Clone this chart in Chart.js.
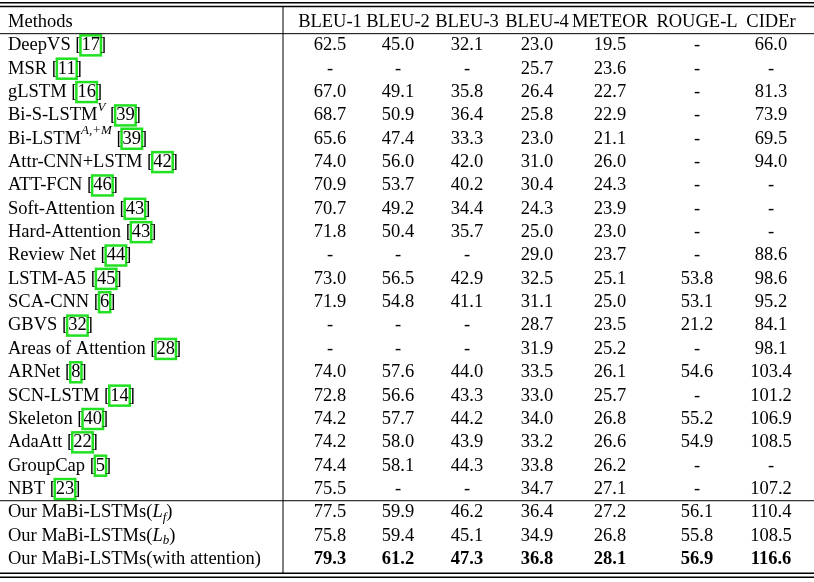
<!DOCTYPE html>
<html>
<head>
<meta charset="utf-8">
<script src="https://cdn.jsdelivr.net/npm/chart.js@4/dist/chart.umd.min.js"></script>
<style>
  html, body { margin: 0; padding: 0; background: #fff; }
  #wrap { width: 814px; height: 582px; }
</style>
</head>
<body>
<div id="wrap"><canvas id="myChart"></canvas></div>
<script>
// table content
const metrics = ["BLEU-1", "BLEU-2", "BLEU-3", "BLEU-4", "METEOR", "ROUGE-L", "CIDEr"];
const methods = ["DeepVS", "MSR", "gLSTM", "Bi-S-LSTM^{V}", "Bi-LSTM^{A,+M}", "Attr-CNN+LSTM", "ATT-FCN",
  "Soft-Attention", "Hard-Attention", "Review Net", "LSTM-A5", "SCA-CNN", "GBVS", "Areas of Attention",
  "ARNet", "SCN-LSTM", "Skeleton", "AdaAtt", "GroupCap", "NBT",
  "Our MaBi-LSTMs(*L*_{f})", "Our MaBi-LSTMs(*L*_{b})", "Our MaBi-LSTMs(with attention)"];
const refs = [17, 11, 16, 39, 39, 42, 46, 43, 43, 44, 45, 6, 32, 28, 8, 14, 40, 22, 5, 23, null, null, null];
const bleu1 = [62.5, null, 67.0, 68.7, 65.6, 74.0, 70.9, 70.7, 71.8, null, 73.0, 71.9, null, null, 74.0, 72.8, 74.2, 74.2, 74.4, 75.5, 77.5, 75.8, 79.3];
const bleu2 = [45.0, null, 49.1, 50.9, 47.4, 56.0, 53.7, 49.2, 50.4, null, 56.5, 54.8, null, null, 57.6, 56.6, 57.7, 58.0, 58.1, null, 59.9, 59.4, 61.2];
const bleu3 = [32.1, null, 35.8, 36.4, 33.3, 42.0, 40.2, 34.4, 35.7, null, 42.9, 41.1, null, null, 44.0, 43.3, 44.2, 43.9, 44.3, null, 46.2, 45.1, 47.3];
const bleu4 = [23.0, 25.7, 26.4, 25.8, 23.0, 31.0, 30.4, 24.3, 25.0, 29.0, 32.5, 31.1, 28.7, 31.9, 33.5, 33.0, 34.0, 33.2, 33.8, 34.7, 36.4, 34.9, 36.8];
const meteor = [19.5, 23.6, 22.7, 22.9, 21.1, 26.0, 24.3, 23.9, 23.0, 23.7, 25.1, 25.0, 23.5, 25.2, 26.1, 25.7, 26.8, 26.6, 26.2, 27.1, 27.2, 26.8, 28.1];
const rougeL = [null, null, null, null, null, null, null, null, null, null, 53.8, 53.1, 21.2, null, 54.6, null, 55.2, 54.9, null, null, 56.1, 55.8, 56.9];
const cider = [66.0, null, 81.3, 73.9, 69.5, 94.0, null, null, null, 88.6, 98.6, 95.2, 84.1, 98.1, 103.4, 101.2, 106.9, 108.5, null, 107.2, 110.4, 108.5, 116.6];
const columns = [bleu1, bleu2, bleu3, bleu4, meteor, rougeL, cider];

// layout
const colX = [330, 398, 467, 537, 610, 697, 771];
const font = '"Liberation Serif", "DejaVu Serif", serif';
const fs = "18.5px ";

const points = [];
columns.forEach((col, c) => col.forEach((v, r) => points.push({ x: colX[c], y: r + 1, v: v, last: r === methods.length - 1 })));

function drawRich(ctx, str, x, y, bold) {
  const base = (bold ? "bold " : "") + fs + font;
  const re = /\^\{([^}]*)\}|_\{([^}]*)\}|\*([^*]*)\*|([^\^_*]+)/g;
  let m;
  while ((m = re.exec(str))) {
    let t, f, dy = 0;
    if (m[1] !== undefined) { t = m[1]; f = "italic 13px " + font; dy = -8; }
    else if (m[2] !== undefined) { t = m[2]; f = "italic 13px " + font; dy = 5; }
    else if (m[3] !== undefined) { t = m[3]; f = "italic " + fs + font; }
    else { t = m[4]; f = base; }
    ctx.font = f;
    ctx.fillText(t, x, y + dy);
    x += ctx.measureText(t).width;
  }
  return x;
}

const tablePlugin = {
  id: "tablePlugin",
  afterDatasetsDraw(chart) {
    const ctx = chart.ctx, xs = chart.scales.x, ys = chart.scales.y;
    ctx.save();
    ctx.fillStyle = "#000";
    ctx.textBaseline = "middle";
    // header
    ctx.font = fs + font;
    ctx.textAlign = "left";
    ctx.fillText("Methods", 8, ys.getPixelForValue(0));
    ctx.textAlign = "center";
    metrics.forEach((m, i) => ctx.fillText(m, xs.getPixelForValue(colX[i]), ys.getPixelForValue(0)));
    // cells
    points.forEach(p => {
      ctx.font = (p.last ? "bold " : "") + fs + font;
      ctx.fillText(p.v === null ? "-" : p.v.toFixed(1), xs.getPixelForValue(p.x), ys.getPixelForValue(p.y));
    });
    // method names
    ctx.textAlign = "left";
    methods.forEach((name, i) => {
      const y = ys.getPixelForValue(i + 1);
      let x = drawRich(ctx, name, 8, y, false);
      if (refs[i] !== null) {
        ctx.font = fs + font;
        const t = " [";
        ctx.fillText(t, x, y); x += ctx.measureText(t).width;
        const n = String(refs[i]);
        const w = ctx.measureText(n).width;
        ctx.fillText(n, x, y);
        ctx.strokeStyle = "#22e022"; ctx.lineWidth = 2.5;
        ctx.strokeRect(x - 1, y - 10, w + 2, 20);
        x += w;
        ctx.fillText("]", x, y);
      }
    });
    // rules
    ctx.strokeStyle = "#000";
    const hline = (v, lw) => {
      const y = ys.getPixelForValue(v);
      ctx.lineWidth = lw; ctx.beginPath(); ctx.moveTo(0, y); ctx.lineTo(814, y); ctx.stroke();
    };
    hline(-0.82, 1.5); hline(-0.66, 1.5);
    hline(0.5, 1); hline(20.5, 1);
    hline(23.6, 1.5); hline(23.78, 1.5);
    const vx = xs.getPixelForValue(283);
    ctx.lineWidth = 1; ctx.beginPath();
    ctx.moveTo(vx, ys.getPixelForValue(-0.66)); ctx.lineTo(vx, ys.getPixelForValue(23.6)); ctx.stroke();
    ctx.restore();
  }
};

new Chart(document.getElementById("myChart"), {
  type: "scatter",
  data: { datasets: [{ data: points, pointRadius: 0, pointHoverRadius: 0 }] },
  options: {
    responsive: true,
    maintainAspectRatio: false,
    animation: false,
    events: [],
    layout: { padding: 0 },
    plugins: { legend: { display: false }, tooltip: { enabled: false } },
    scales: {
      x: { type: "linear", min: 0, max: 814, display: false },
      y: { type: "linear", min: -0.942, max: 23.98, reverse: true, display: false }
    }
  },
  plugins: [tablePlugin]
});
</script>
</body>
</html>
